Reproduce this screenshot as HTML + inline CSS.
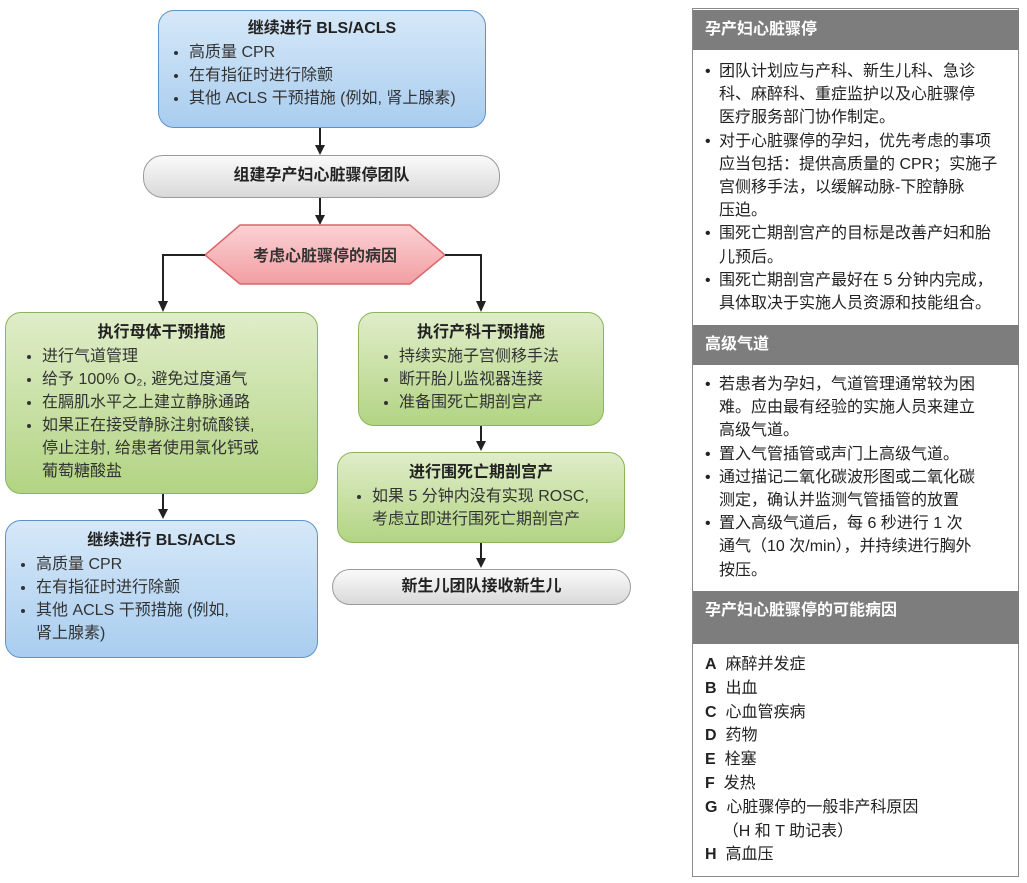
<!DOCTYPE html>
<html><head><meta charset="utf-8"><style>
body{margin:0;width:1027px;height:883px;background:#fff;position:relative;overflow:hidden;font-family:"Liberation Sans","Noto Sans CJK SC",sans-serif;color:#222}
.a{position:absolute}
.box{position:absolute;box-sizing:border-box;border-radius:16px}
.blue{background:linear-gradient(#d6e8f8,#a9cdef);border:1.5px solid #5d93c9}
.green{background:linear-gradient(#e0edc9,#b2d483);border:1.5px solid #8ab55b}
.gray{background:linear-gradient(#fafafa,#d9d9d9);border:1.5px solid #9a9a9a;border-radius:20px;font-weight:bold;font-size:16px;text-align:center}
.t{font-weight:bold;font-size:16px;text-align:center;margin-top:9px;line-height:22px}
ul{margin:1px 0 0 0;padding-left:30px;font-size:16px;line-height:23px;color:#333;white-space:nowrap}
.l{position:absolute;background:#222}
.ar{position:absolute;width:0;height:0;border-left:5px solid transparent;border-right:5px solid transparent;border-top:10px solid #222}
.p{position:absolute;left:705px;font-size:16px;line-height:23.2px;color:#222;white-space:nowrap}
.b{position:relative;padding-left:14px}
.b:before{content:"•";position:absolute;left:0}
.h{position:absolute;left:693px;width:326px;background:#7d7d7d;color:#fff;font-size:16px;font-weight:bold;padding-left:12px;box-sizing:border-box}
</style></head><body>
<div class="box blue" style="left:158px;top:10px;width:328px;height:118px"><div class="t" style="margin-top:7px">继续进行 BLS/ACLS</div><ul><li>高质量 CPR</li><li>在有指征时进行除颤</li><li>其他 ACLS 干预措施 (例如, 肾上腺素)</li></ul></div>
<div class="l" style="left:319px;top:128px;width:2px;height:18px"></div><div class="ar" style="left:315px;top:145px"></div>
<div class="box gray" style="left:143px;top:155px;width:357px;height:43px;line-height:40px">组建孕产妇心脏骤停团队</div>
<div class="l" style="left:319px;top:198px;width:2px;height:18px"></div><div class="ar" style="left:315px;top:215px"></div>
<svg class="a" style="left:0;top:0" width="650" height="320">
<defs><linearGradient id="r" x1="0" y1="0" x2="0" y2="1"><stop offset="0" stop-color="#fbd2d4"/><stop offset="1" stop-color="#f29ea2"/></linearGradient></defs>
<polygon points="205,255 240,225 410,225 445,255 410,284 240,284" fill="url(#r)" stroke="#d9676c" stroke-width="1.5"/>
<polyline points="205,255 163,255 163,302" fill="none" stroke="#222" stroke-width="2"/>
<polyline points="445,255 481,255 481,302" fill="none" stroke="#222" stroke-width="2"/>
<polygon points="158,301 168,301 163,312" fill="#222"/><polygon points="476,301 486,301 481,312" fill="#222"/>
<text x="325" y="261" text-anchor="middle" font-size="16" font-weight="bold" fill="#333" font-family="Liberation Sans, Noto Sans CJK SC, sans-serif">考虑心脏骤停的病因</text>
</svg>
<div class="box green" style="left:5px;top:312px;width:313px;height:182px"><div class="t">执行母体干预措施</div><ul style="padding-left:36px"><li>进行气道管理</li><li>给予 100% O₂, 避免过度通气</li><li>在膈肌水平之上建立静脉通路</li><li>如果正在接受静脉注射硫酸镁,<br>停止注射, 给患者使用氯化钙或<br>葡萄糖酸盐</li></ul></div>
<div class="l" style="left:162px;top:494px;width:2px;height:16px"></div><div class="ar" style="left:158px;top:509px"></div>
<div class="box blue" style="left:5px;top:520px;width:313px;height:138px"><div class="t">继续进行 BLS/ACLS</div><ul><li>高质量 CPR</li><li>在有指征时进行除颤</li><li>其他 ACLS 干预措施 (例如,<br>肾上腺素)</li></ul></div>
<div class="box green" style="left:358px;top:312px;width:246px;height:114px"><div class="t">执行产科干预措施</div><ul style="padding-left:40px"><li>持续实施子宫侧移手法</li><li>断开胎儿监视器连接</li><li>准备围死亡期剖宫产</li></ul></div>
<div class="l" style="left:480px;top:426px;width:2px;height:16px"></div><div class="ar" style="left:476px;top:441px"></div>
<div class="box green" style="left:337px;top:452px;width:288px;height:91px"><div class="t">进行围死亡期剖宫产</div><ul style="padding-left:34px"><li>如果 5 分钟内没有实现 ROSC,<br>考虑立即进行围死亡期剖宫产</li></ul></div>
<div class="l" style="left:480px;top:543px;width:2px;height:16px"></div><div class="ar" style="left:476px;top:558px"></div>
<div class="box gray" style="left:332px;top:569px;width:299px;height:36px;line-height:33px">新生儿团队接收新生儿</div>

<div class="a" style="left:692px;top:8px;width:327px;height:869px;border:1.5px solid #8a8a8a;box-sizing:border-box"></div>
<div class="h" style="top:10px;height:40px;line-height:40px">孕产妇心脏骤停</div>
<div class="p" style="top:60px">
<div class="b">团队计划应与产科、新生儿科、急诊<br>科、麻醉科、重症监护以及心脏骤停<br>医疗服务部门协作制定。</div>
<div class="b">对于心脏骤停的孕妇，优先考虑的事项<br>应当包括：提供高质量的 CPR；实施子<br>宫侧移手法，以缓解动脉-下腔静脉<br>压迫。</div>
<div class="b">围死亡期剖宫产的目标是改善产妇和胎<br>儿预后。</div>
<div class="b">围死亡期剖宫产最好在 5 分钟内完成，<br>具体取决于实施人员资源和技能组合。</div></div>
<div class="h" style="top:325px;height:40px;line-height:40px">高级气道</div>
<div class="p" style="top:373px">
<div class="b">若患者为孕妇，气道管理通常较为困<br>难。应由最有经验的实施人员来建立<br>高级气道。</div>
<div class="b">置入气管插管或声门上高级气道。</div>
<div class="b">通过描记二氧化碳波形图或二氧化碳<br>测定，确认并监测气管插管的放置</div>
<div class="b">置入高级气道后，每 6 秒进行 1 次<br>通气（10 次/min），并持续进行胸外<br>按压。</div></div>
<div class="h" style="top:591px;height:53px;line-height:40px">孕产妇心脏骤停的可能病因</div>
<div class="p" style="top:653px;line-height:23.8px"><b>A</b>&nbsp; 麻醉并发症<br><b>B</b>&nbsp; 出血<br><b>C</b>&nbsp; 心血管疾病<br><b>D</b>&nbsp; 药物<br><b>E</b>&nbsp; 栓塞<br><b>F</b>&nbsp; 发热<br><b>G</b>&nbsp; 心脏骤停的一般非产科原因<br>&nbsp;&nbsp;&nbsp;&nbsp;（H 和 T 助记表）<br><b>H</b>&nbsp; 高血压</div>
</body></html>
